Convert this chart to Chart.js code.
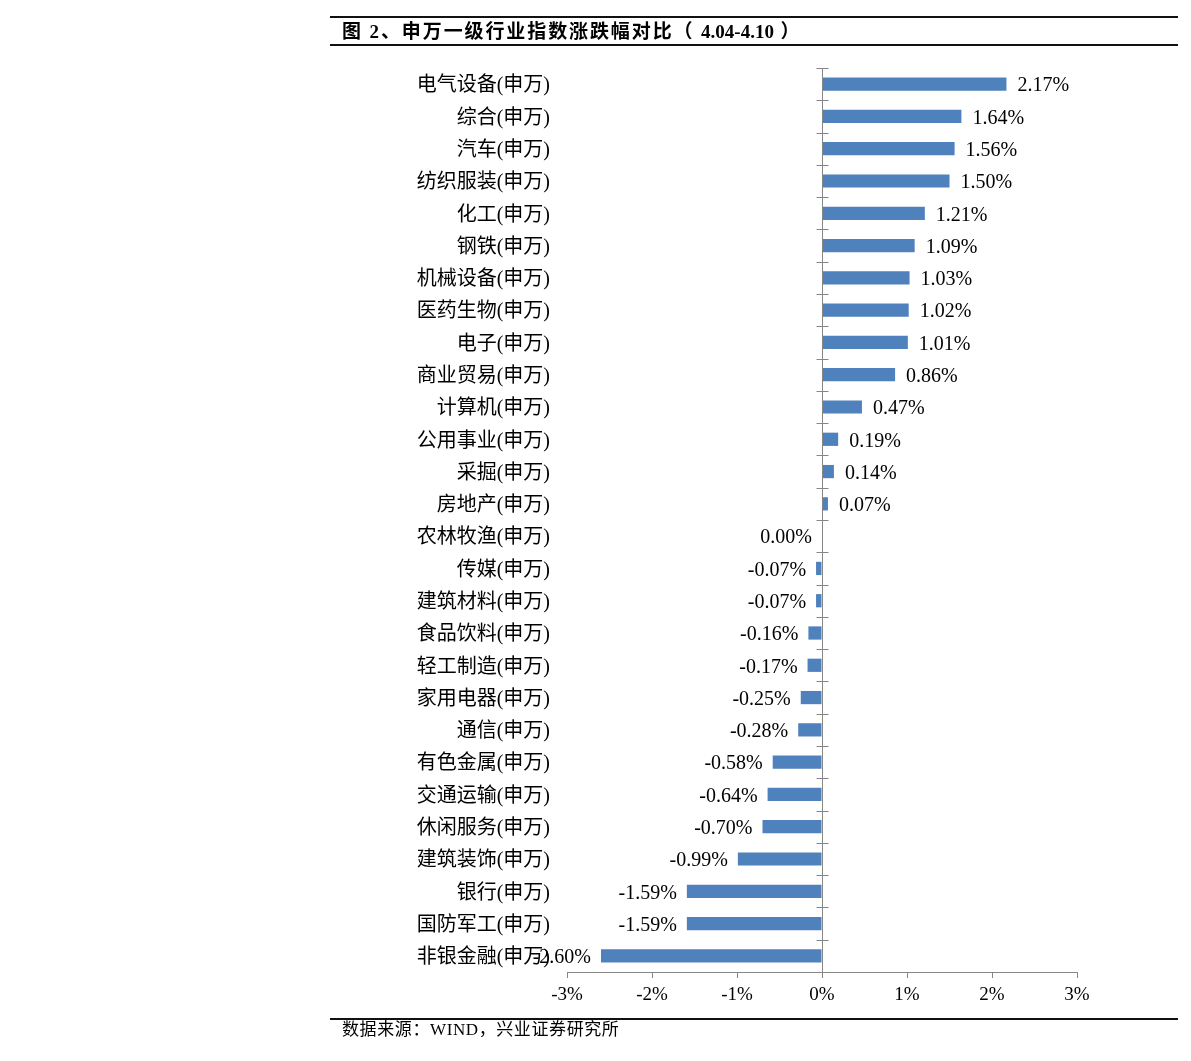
<!DOCTYPE html>
<html>
<head>
<meta charset="utf-8">
<script src="https://cdn.jsdelivr.net/npm/chart.js@4/dist/chart.umd.min.js"></script>
<style>
  body { margin: 0; background: #fff; }
  #wrap { position: relative; width: 1191px; height: 1061px; }
  #chart { position: absolute; left: 0; top: 0; }
  .rule { position: absolute; left: 330px; width: 848px; height: 2px; background: #111; }
  #title { position: absolute; left: 342px; top: 20px; font: bold 19px 'Liberation Serif', 'Noto Sans CJK SC'; letter-spacing: 1.9px; color: #000; white-space: pre; line-height: 24px; }
  #title span { letter-spacing: 0; }
  #source { position: absolute; left: 342px; top: 1020px; font: 17px 'Liberation Serif', 'Noto Sans CJK SC'; letter-spacing: 0.6px; color: #000; line-height: 20px; white-space: pre; }
</style>
</head>
<body>
<div id="wrap">
  <canvas id="chart" width="1191" height="1061"></canvas>
  <div class="rule" style="top:16px"></div>
  <div id="title">图 2、申万一级行业指数涨跌幅对比（ <span>4.04-4.10</span> ）</div>
  <div class="rule" style="top:44px"></div>
  <div class="rule" style="top:1018px"></div>
  <div id="source">数据来源：WIND，兴业证券研究所</div>
</div>
<script>
const industries = ['电气设备(申万)', '综合(申万)', '汽车(申万)', '纺织服装(申万)', '化工(申万)', '钢铁(申万)',
  '机械设备(申万)', '医药生物(申万)', '电子(申万)', '商业贸易(申万)', '计算机(申万)', '公用事业(申万)',
  '采掘(申万)', '房地产(申万)', '农林牧渔(申万)', '传媒(申万)', '建筑材料(申万)', '食品饮料(申万)',
  '轻工制造(申万)', '家用电器(申万)', '通信(申万)', '有色金属(申万)', '交通运输(申万)', '休闲服务(申万)',
  '建筑装饰(申万)', '银行(申万)', '国防军工(申万)', '非银金融(申万)'];
const changes = [2.17, 1.64, 1.56, 1.50, 1.21, 1.09, 1.03, 1.02, 1.01, 0.86, 0.47, 0.19, 0.14, 0.07, 0.00,
  -0.07, -0.07, -0.16, -0.17, -0.25, -0.28, -0.58, -0.64, -0.70, -0.99, -1.59, -1.59, -2.60];
const xMin = -3, xMax = 3;

const serif = "'Liberation Serif', 'Noto Sans CJK SC'";
const axisGrey = '#868686';

// zero axis with ticks crossing it between categories
const zeroAxis = {
  id: 'zeroAxis',
  afterDatasetsDraw(chart) {
    const { ctx, chartArea, scales } = chart;
    const x0 = Math.round(scales.x.getPixelForValue(0)) + 0.5;
    const n = industries.length;
    const step = (chartArea.bottom - chartArea.top) / n;
    ctx.save();
    ctx.strokeStyle = axisGrey;
    ctx.lineWidth = 1;
    ctx.beginPath();
    ctx.moveTo(x0, chartArea.top);
    ctx.lineTo(x0, chartArea.bottom);
    for (let i = 0; i <= n; i++) {
      const y = Math.round(chartArea.top + i * step) + 0.5;
      ctx.moveTo(x0 - 6, y);
      ctx.lineTo(x0 + 6, y);
    }
    ctx.stroke();
    ctx.restore();
  }
};

// value labels at bar ends
const barLabels = {
  id: 'barLabels',
  afterDatasetsDraw(chart) {
    const { ctx } = chart;
    const meta = chart.getDatasetMeta(0);
    ctx.save();
    ctx.font = '20px ' + serif;
    ctx.fillStyle = '#000';
    ctx.textBaseline = 'middle';
    meta.data.forEach((bar, i) => {
      const v = changes[i];
      const txt = v.toFixed(2) + '%';
      if (v > 0) {
        ctx.textAlign = 'left';
        ctx.fillText(txt, bar.x + 11, bar.y + 2);
      } else {
        ctx.textAlign = 'right';
        ctx.fillText(txt, bar.x - 10, bar.y + 2);
      }
    });
    ctx.restore();
  }
};

new Chart(document.getElementById('chart'), {
  type: 'bar',
  data: {
    labels: industries,
    datasets: [{
      data: changes,
      backgroundColor: '#4F81BD',
      categoryPercentage: 1,
      barPercentage: 0.41
    }]
  },
  options: {
    indexAxis: 'y',
    responsive: false,
    animation: false,
    layout: { padding: { top: 68, right: 114, bottom: 49, left: 0 } },
    plugins: { legend: { display: false }, tooltip: { enabled: false } },
    scales: {
      x: {
        min: xMin,
        max: xMax,
        ticks: {
          stepSize: 1,
          padding: 6,
          color: '#000',
          font: { family: serif, size: 19 },
          callback: v => v + '%'
        },
        grid: { drawOnChartArea: false, tickLength: 6, color: axisGrey },
        border: { color: axisGrey },
        afterFit: s => { s.height = 40; }
      },
      y: {
        grid: { display: false, drawTicks: false },
        border: { display: false },
        ticks: {
          padding: 17,
          labelOffset: 2,
          color: '#000',
          font: { family: serif, size: 20 }
        },
        afterFit: s => { s.width = 567; }
      }
    }
  },
  plugins: [zeroAxis, barLabels]
});
</script>
</body>
</html>
